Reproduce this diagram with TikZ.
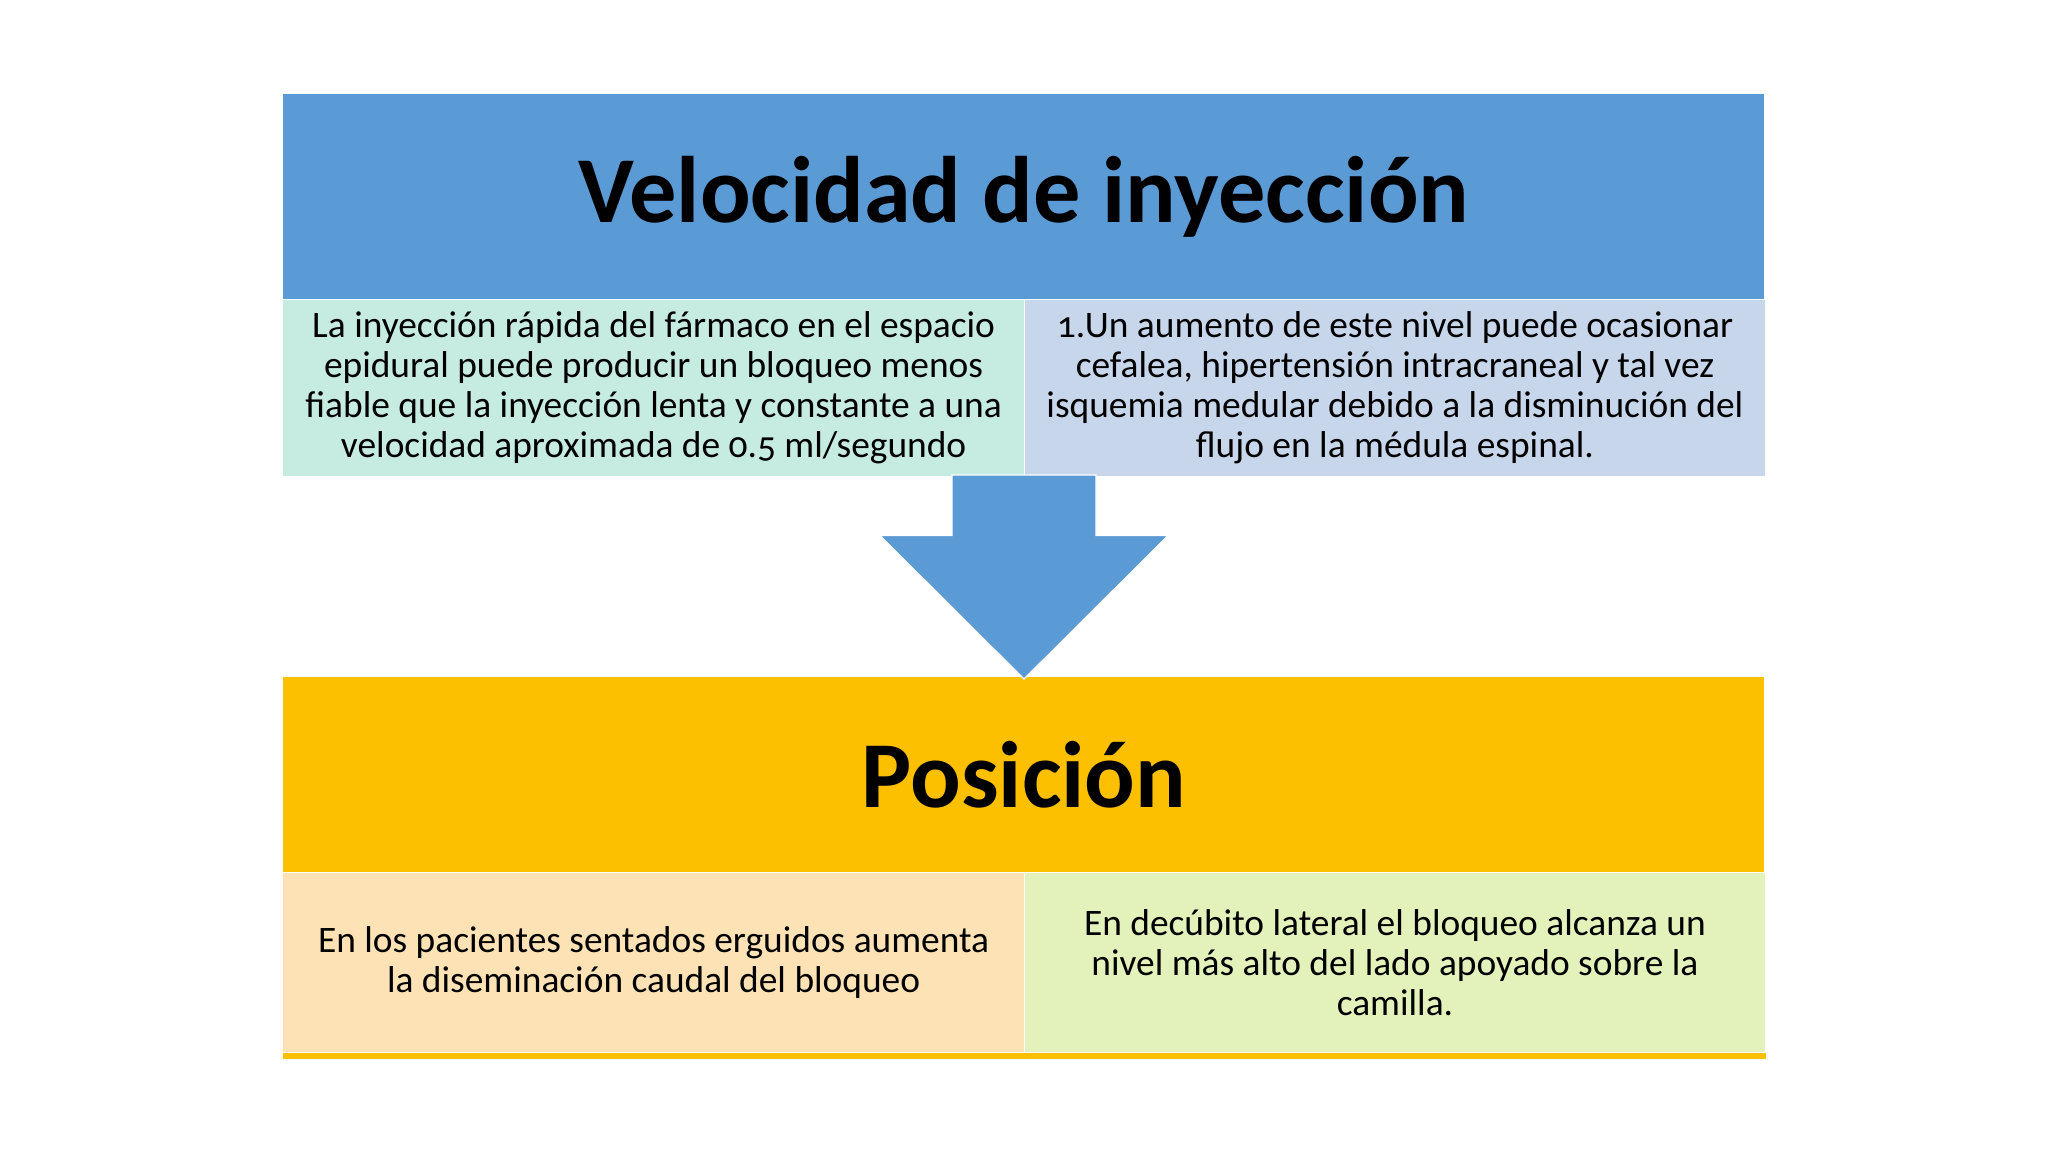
\documentclass[tikz,border=0pt]{standalone}
\usepackage{fontspec}
\setmainfont[Numbers=OldStyle]{Carlito}
\usetikzlibrary{positioning}
\definecolor{azul}{HTML}{5B9BD5}
\definecolor{menta}{HTML}{C6EBE0}
\definecolor{grisazul}{HTML}{C8D6EC}
\definecolor{amarillo}{HTML}{FDC000}
\definecolor{durazno}{HTML}{FDE2B6}
\definecolor{verdeclaro}{HTML}{E3F2BB}
\tikzset{
  cabecera/.style={anchor=north west, inner sep=0pt, minimum width=740.5pt,
    font=\bfseries\fontsize{47.2}{52}\selectfont},
  celda/.style={anchor=north west, inner sep=0pt, minimum width=370.25pt,
    align=center, font=\fontsize{18.7}{20}\selectfont}
}
\begin{document}
\begin{tikzpicture}[x=0.5pt, y=-0.5pt]

  \useasboundingbox[fill=white] (0,0) rectangle (2048,1152);

  % Upper block
  \node[cabecera, fill=azul, minimum height=102.5pt] (velocidad) at (283,94) {Velocidad de inyección};
  \node[celda, fill=menta, minimum height=88pt] (rapida) at (velocidad.south west)
    {La inyección rápida del fármaco en el espacio\\ epidural puede producir un bloqueo menos\\
     fiable que la inyección lenta y constante a una\\ velocidad aproximada de 0.5 ml/segundo};
  \node[celda, fill=grisazul, minimum height=88pt] (aumento) at (rapida.north east)
    {1.Un aumento de este nivel puede ocasionar\\ cefalea, hipertensión intracraneal y tal vez\\
     isquemia medular debido a la disminución del\\ flujo en la médula espinal.};

  % Lower block
  \node[cabecera, fill=amarillo, minimum height=97.75pt] (posicion) at (283,676.5) {Posición};
  \node[celda, fill=durazno, minimum height=89.5pt] (sentados) at (posicion.south west)
    {En los pacientes sentados erguidos aumenta\\ la diseminación caudal del bloqueo};
  \node[celda, fill=verdeclaro, minimum height=89.5pt] (decubito) at (sentados.north east)
    {En decúbito lateral el bloqueo alcanza un\\ nivel más alto del lado apoyado sobre la\\ camilla.};
  \fill[amarillo] (sentados.south west) rectangle ([yshift=-3pt]decubito.south east);

  % Block arrow
  \filldraw[fill=azul, draw=white, line width=0.6pt]
    (952,475) -- (1096,475) -- (1096,535.5) -- (1168,535.5) -- (1024,679)
    -- (880,535.5) -- (952,535.5) -- cycle;

\end{tikzpicture}
\end{document}
